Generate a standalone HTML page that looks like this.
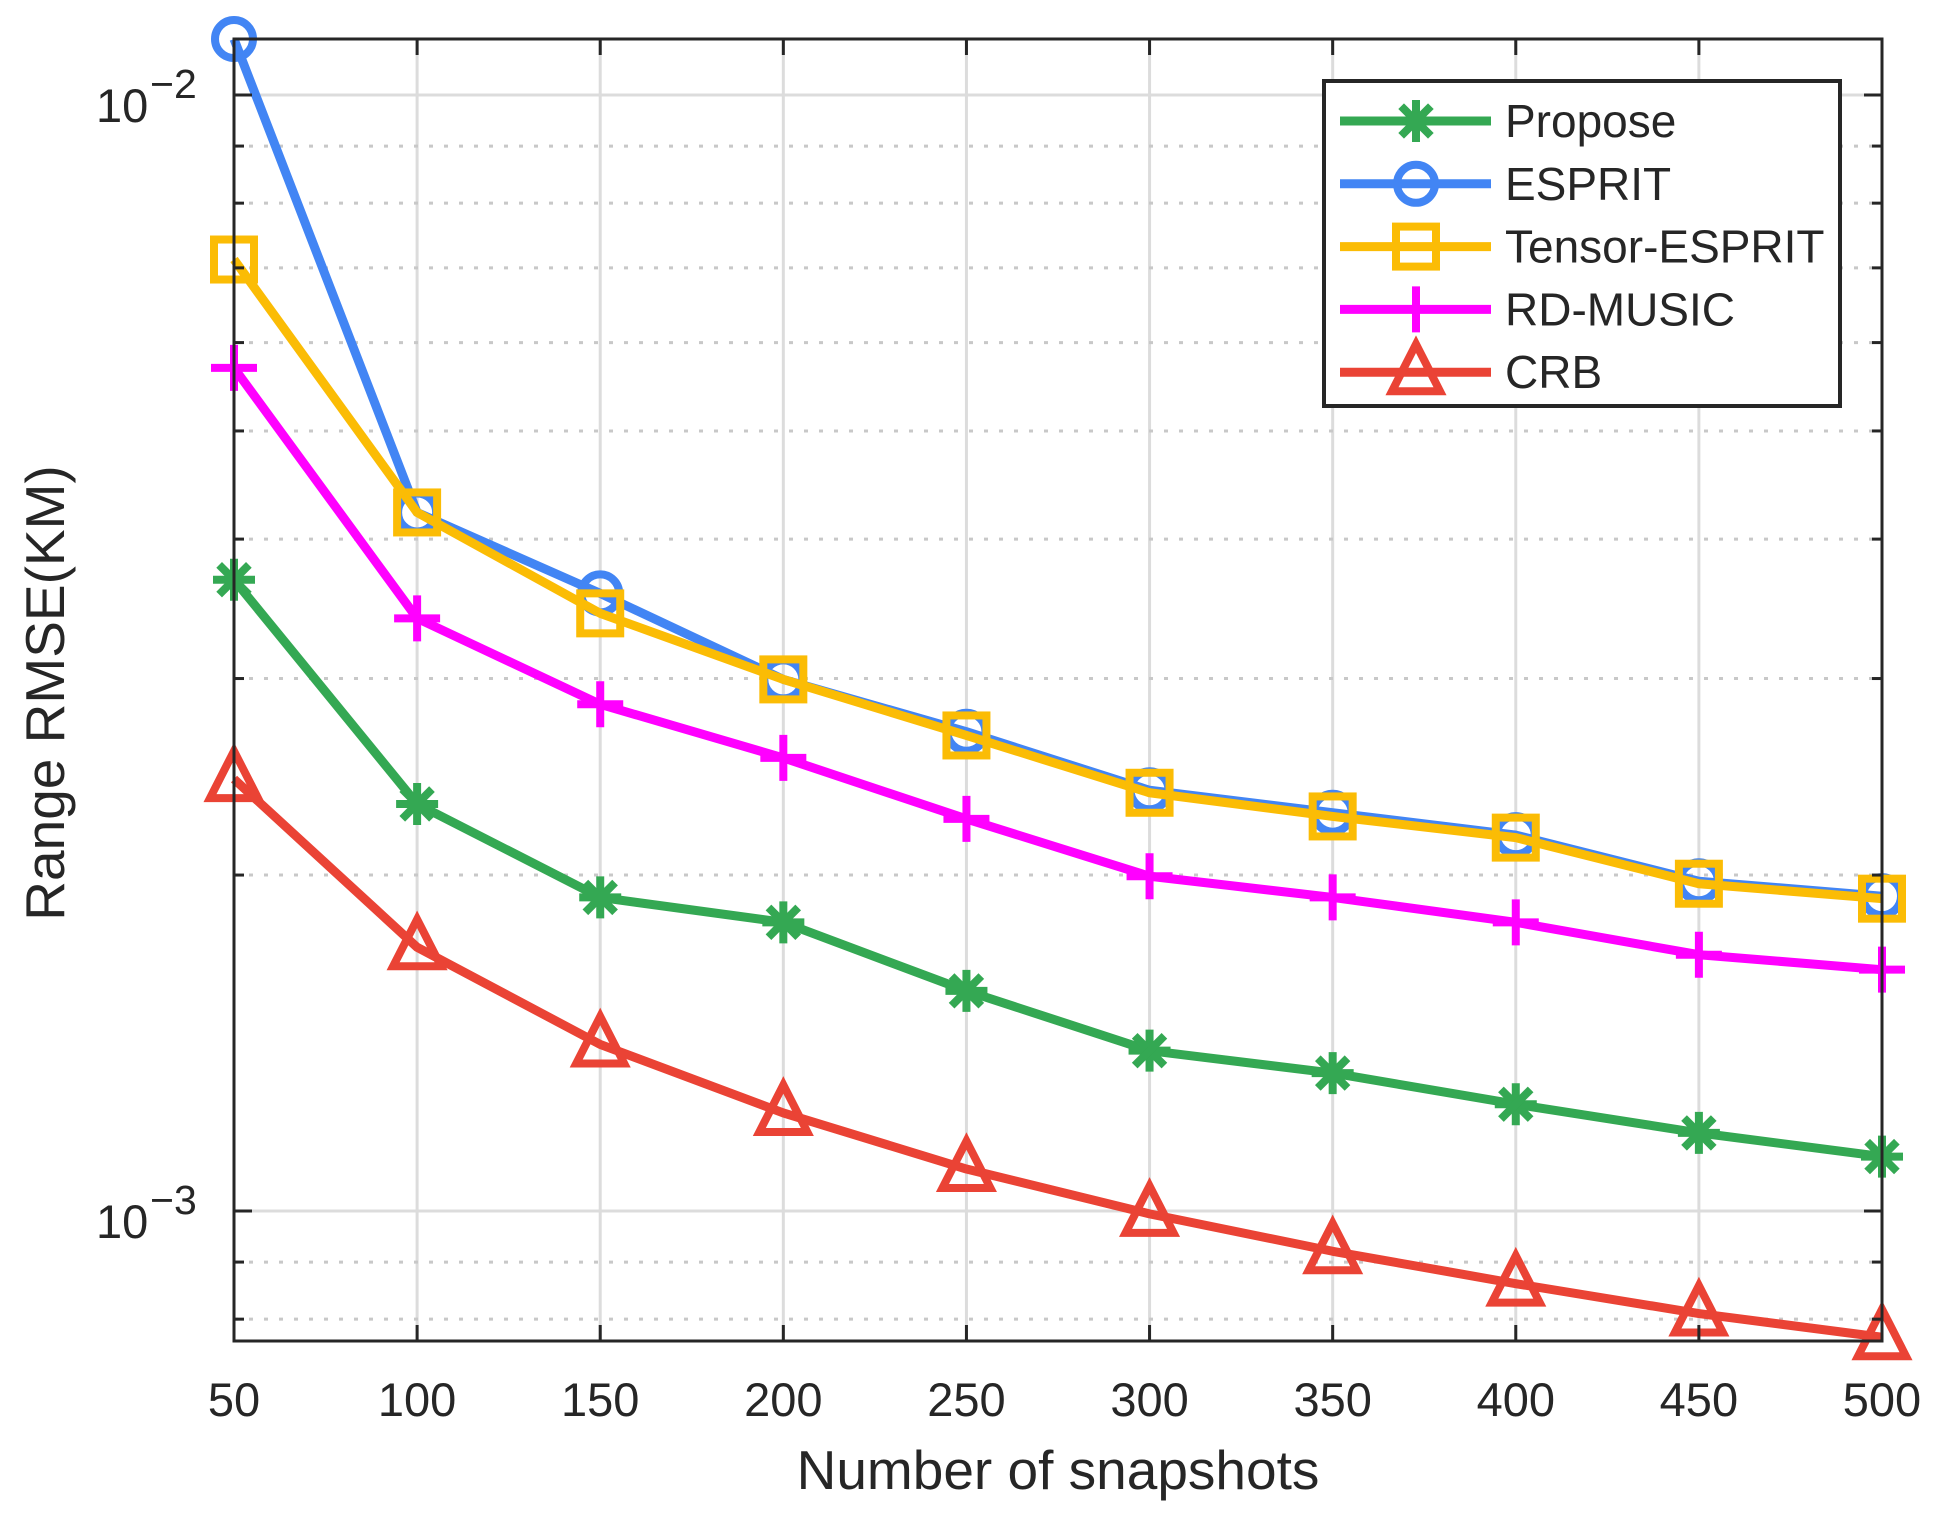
<!DOCTYPE html>
<html><head><meta charset="utf-8"><style>
html,body{margin:0;padding:0;background:#fff}
svg{display:block}
text{font-family:"Liberation Sans",Arial,sans-serif;fill:#262626}
</style></head><body>
<svg id="s" width="1953" height="1520" viewBox="0 0 1953 1520" xmlns="http://www.w3.org/2000/svg">
<rect width="1953" height="1520" fill="#fff"/>
<g id="grid"></g>
<g id="series"></g>
<g id="axes"></g>
<g id="ticks"></g>
<text x="1058" y="1489" font-size="55" text-anchor="middle">Number of snapshots</text>
<text transform="translate(64,693) rotate(-90)" font-size="55" text-anchor="middle">Range RMSE(KM)</text>
<text x="96" y="122" font-size="47">10</text><text x="150" y="98" font-size="41">−2</text>
<text x="96" y="1238" font-size="47">10</text><text x="150" y="1214" font-size="41">−3</text>
<g id="legend"></g>
</svg>
<script>
const NS="http://www.w3.org/2000/svg";
function el(p,t,a){const e=document.createElementNS(NS,t);for(const k in a)e.setAttribute(k,a[k]);p.appendChild(e);return e;}
const L=234,R=1882,T=39,B=1341,STEP=(R-L)/9;
const y=v=>95+(-2-Math.log10(v))*1116;
const g=document.getElementById('grid');
for(let i=1;i<9;i++){const x=L+i*STEP;el(g,'line',{x1:x,y1:T,x2:x,y2:B,stroke:'#dcdcdc','stroke-width':3});}
[y(0.01),y(0.001)].forEach(v=>el(g,'line',{x1:L,y1:v,x2:R,y2:v,stroke:'#dcdcdc','stroke-width':3}));
const minor=[];for(let k=2;k<=9;k++)minor.push(k*1e-3);minor.push(8e-4,9e-4);
minor.forEach(m=>{const v=y(m);el(g,'line',{x1:L,y1:v,x2:R,y2:v,stroke:'#c8c8c8','stroke-width':3,'stroke-dasharray':'4 11'});});
const a=document.getElementById('axes');
el(a,'rect',{x:L,y:T,width:R-L,height:B-T,fill:'none',stroke:'#262626','stroke-width':3});
for(let i=1;i<9;i++){const x=L+i*STEP;el(a,'line',{x1:x,y1:B,x2:x,y2:B-16,stroke:'#262626','stroke-width':3});el(a,'line',{x1:x,y1:T,x2:x,y2:T+16,stroke:'#262626','stroke-width':3});}
[y(0.01),y(0.001)].forEach(v=>{el(a,'line',{x1:L,y1:v,x2:L+18,y2:v,stroke:'#262626','stroke-width':3});el(a,'line',{x1:R,y1:v,x2:R-18,y2:v,stroke:'#262626','stroke-width':3});});
minor.forEach(m=>{const v=y(m);el(a,'line',{x1:L,y1:v,x2:L+10,y2:v,stroke:'#262626','stroke-width':3});el(a,'line',{x1:R,y1:v,x2:R-10,y2:v,stroke:'#262626','stroke-width':3});});
const tk=document.getElementById('ticks');
for(let i=0;i<10;i++){const t=el(tk,'text',{x:L+i*STEP,y:1416,'font-size':47,'text-anchor':'middle'});t.textContent=String(50+50*i);}
const sy=s=>39+(s-31)*1.2459;
const data={
 p:{c:'#34a853',m:'star',v:[465,645,720,740,795,843,861,886,909,928]},
 e:{c:'#4285f4',m:'circ',v:[31,411,476,545,587,634,652,670,707,719]},
 t:{c:'#fbbc05',m:'sq',v:[208,411,492,545,590,636,655,672,709,721]},
 r:{c:'#ff00ff',m:'plus',v:[295,496,565,608,657,703,720,740,766,778]},
 c:{c:'#ea4335',m:'tri',v:[625,760,838,893,938,974,1004,1030,1054,1073]}
};
function marker(p,m,x,yy,c){
 const sw=8;
 if(m=='circ')el(p,'circle',{cx:x,cy:yy,r:19,fill:'none',stroke:c,'stroke-width':sw});
 if(m=='sq')el(p,'rect',{x:x-20,y:yy-20,width:40,height:40,fill:'none',stroke:c,'stroke-width':sw});
 if(m=='plus'){el(p,'line',{x1:x-23,y1:yy,x2:x+23,y2:yy,stroke:c,'stroke-width':sw});el(p,'line',{x1:x,y1:yy-23,x2:x,y2:yy+23,stroke:c,'stroke-width':sw});}
 if(m=='star'){for(let ang=0;ang<180;ang+=45){const r=21,dx=r*Math.sin(ang*Math.PI/180),dy=r*Math.cos(ang*Math.PI/180);el(p,'line',{x1:x-dx,y1:yy-dy,x2:x+dx,y2:yy+dy,stroke:c,'stroke-width':sw});}}
 if(m=='tri')el(p,'polygon',{points:`${x},${yy-28} ${x-24},${yy+19} ${x+24},${yy+19}`,fill:'none',stroke:c,'stroke-width':sw});
}
const s=document.getElementById('series');
['c','p','r','e','t'].forEach(key=>{const d=data[key];
 const pts=d.v.map((v,i)=>[L+i*STEP,sy(v)]);
 el(s,'polyline',{points:pts.map(p=>p.join(',')).join(' '),fill:'none',stroke:d.c,'stroke-width':9,'stroke-linejoin':'round'});
 pts.forEach(p=>marker(s,d.m,p[0],p[1],d.c));
});
const lg=document.getElementById('legend');
el(lg,'rect',{x:1324,y:81,width:516,height:325,fill:'#fff',stroke:'#262626','stroke-width':4});
const names=[['p','Propose'],['e','ESPRIT'],['t','Tensor-ESPRIT'],['r','RD-MUSIC'],['c','CRB']];
names.forEach((n,i)=>{const yy=121+i*62.8,d=data[n[0]];
 el(lg,'line',{x1:1340,y1:yy,x2:1491,y2:yy,stroke:d.c,'stroke-width':9});
 marker(lg,d.m,1416,yy,d.c);
 const t=el(lg,'text',{x:1505,y:yy+16,'font-size':46,fill:'#000'});t.textContent=n[1];
});
</script>
</body></html>
